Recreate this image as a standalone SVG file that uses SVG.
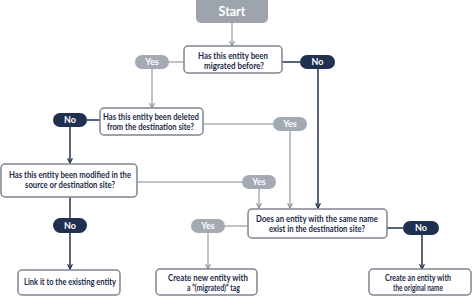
<svg xmlns="http://www.w3.org/2000/svg" width="474" height="297" viewBox="0 0 474 297">
<defs>
<style>
.box{fill:#fff;stroke:#7f8590;stroke-width:1.5}
.t{font-family:"Lato","Noto Sans","Liberation Sans",sans-serif;font-weight:700;font-size:8.6px;fill:#1c2a47;text-anchor:middle}
.pg{fill:#a4aab4}
.pd{fill:#1f3050}
.pt{font-family:"Lato","Noto Sans","Liberation Sans",sans-serif;font-weight:700;font-size:9px;fill:#fff;text-anchor:middle}
.lg{fill:none;stroke:#a9aeb7;stroke-width:1.5}
.ld{fill:none;stroke:#1f3050;stroke-width:1.5}
</style>
<marker id="ag" viewBox="0 0 10 10" refX="9" refY="5" markerWidth="6" markerHeight="6" markerUnits="userSpaceOnUse" orient="auto">
<path d="M1,1 L9,5 L1,9" fill="none" stroke="#8e949e" stroke-width="2"/>
</marker>
<marker id="ad" viewBox="0 0 10 10" refX="9" refY="5" markerWidth="6" markerHeight="6" markerUnits="userSpaceOnUse" orient="auto">
<path d="M1,1 L9,5 L1,9" fill="none" stroke="#1f3050" stroke-width="2"/>
</marker>
</defs>
<rect width="474" height="297" fill="#fff"/>

<g id="connectors">
<path class="lg" d="M232,23 V46" marker-end="url(#ag)"/>
<path class="ld" d="M282,62 H300"/>
<path class="ld" d="M318,69 V208" marker-end="url(#ad)"/>
<path class="lg" d="M169,62 H184"/>
<path class="lg" d="M152,69 V108" marker-end="url(#ag)"/>
<path class="ld" d="M87,120 H100"/>
<path class="ld" d="M70,127 V163" marker-end="url(#ad)"/>
<path class="lg" d="M203,124 H273"/>
<path class="lg" d="M290,131 V208" marker-end="url(#ag)"/>
<path class="lg" d="M137,182 H242"/>
<path class="lg" d="M259,189 V208" marker-end="url(#ag)"/>
<path class="ld" d="M70,197 V218"/>
<path class="ld" d="M70,233 V269" marker-end="url(#ad)"/>
<path class="lg" d="M225,226 H248"/>
<path class="lg" d="M208,233 V269" marker-end="url(#ag)"/>
<path class="ld" d="M387,228 H403"/>
<path class="ld" d="M422,235 V269" marker-end="url(#ad)"/>
</g>

<g id="start">
<rect x="196" y="-6" width="72" height="29" rx="5" fill="#9ea4ae"/>
<text class="pt" x="232" y="16" style="font-size:12.5px">Start</text>
</g>

<g id="q1">
<rect class="box" x="184" y="46" width="98" height="27" rx="4"/>
<text class="t" x="233" y="58.5" textLength="70" lengthAdjust="spacingAndGlyphs">Has this entity been</text>
<text class="t" x="234" y="68.5" textLength="60" lengthAdjust="spacingAndGlyphs">migrated before?</text>
</g>

<g id="yes1">
<rect class="pg" x="135" y="55" width="34" height="14" rx="7"/>
<text class="pt" x="152" y="65.2">Yes</text>
</g>
<g id="no1">
<rect class="pd" x="300" y="55" width="35" height="14" rx="7"/>
<text class="pt" x="317.5" y="65.2">No</text>
</g>

<g id="q2">
<rect class="box" x="100" y="108" width="103" height="27" rx="4"/>
<text class="t" x="151" y="120" textLength="96" lengthAdjust="spacingAndGlyphs">Has this entity been deleted</text>
<text class="t" x="150.5" y="129.5" textLength="87" lengthAdjust="spacingAndGlyphs">from the destination site?</text>
</g>

<g id="no2">
<rect class="pd" x="53" y="113" width="34" height="14" rx="7"/>
<text class="pt" x="70" y="123.2">No</text>
</g>
<g id="yes2">
<rect class="pg" x="273" y="117" width="34" height="14" rx="7"/>
<text class="pt" x="290" y="127.2">Yes</text>
</g>

<g id="q3">
<rect class="box" x="1" y="164" width="136" height="33" rx="4"/>
<text class="t" x="70" y="178" textLength="122" lengthAdjust="spacingAndGlyphs">Has this entity been modified in the</text>
<text class="t" x="70" y="187.5" textLength="90" lengthAdjust="spacingAndGlyphs">source or destination site?</text>
</g>

<g id="yes3">
<rect class="pg" x="242" y="175" width="34" height="14" rx="7"/>
<text class="pt" x="259" y="185.2">Yes</text>
</g>
<g id="no3">
<rect class="pd" x="53" y="218" width="34" height="15" rx="7.5"/>
<text class="pt" x="70" y="228.7">No</text>
</g>

<g id="q4">
<rect class="box" x="248" y="209" width="139" height="29" rx="4"/>
<text class="t" x="317" y="222" textLength="122" lengthAdjust="spacingAndGlyphs">Does an entity with the same name</text>
<text class="t" x="317" y="232" textLength="96" lengthAdjust="spacingAndGlyphs">exist in the destination site?</text>
</g>

<g id="yes4">
<rect class="pg" x="191" y="219" width="34" height="14" rx="7"/>
<text class="pt" x="208" y="229.2">Yes</text>
</g>
<g id="no4">
<rect class="pd" x="403" y="221" width="36" height="14" rx="7"/>
<text class="pt" x="421" y="231.2">No</text>
</g>

<g id="link">
<rect class="box" x="18" y="270" width="102" height="25" rx="4"/>
<text class="t" x="70" y="285" textLength="92" lengthAdjust="spacingAndGlyphs">Link it to the existing entity</text>
</g>

<g id="create-tag">
<rect class="box" x="156" y="269" width="101" height="26" rx="4"/>
<text class="t" x="208" y="280.5" textLength="80" lengthAdjust="spacingAndGlyphs">Create new entity with</text>
<text class="t" x="213.5" y="291" textLength="53" lengthAdjust="spacingAndGlyphs">a “(migrated)” tag</text>
</g>

<g id="create-orig">
<rect class="box" x="369" y="269" width="102" height="26" rx="4"/>
<text class="t" x="418" y="280.5" textLength="66" lengthAdjust="spacingAndGlyphs">Create an entity with</text>
<text class="t" x="418" y="291" textLength="50" lengthAdjust="spacingAndGlyphs">the original name</text>
</g>
</svg>
